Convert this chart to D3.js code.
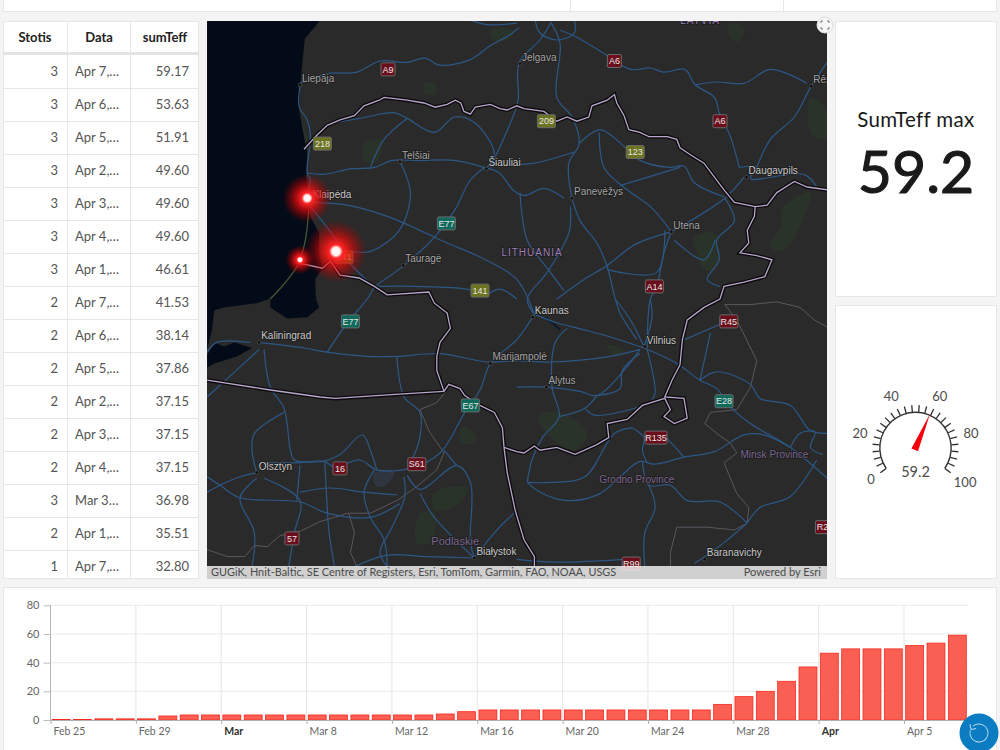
<!DOCTYPE html>
<html>
<head>
<meta charset="utf-8">
<script src="https://cdn.jsdelivr.net/npm/d3@7"></script>
<style>
  html, body { margin: 0; padding: 0; background: #f4f4f4; overflow: hidden; }
  svg { display: block; font-family: Lato, "Open Sans", sans-serif; }
  .mapLabel { font-family: "Liberation Sans", Arial, sans-serif; paint-order: stroke; stroke: #1c1c1c; stroke-width: 1.5px; }
  .axis path { display: none; }
</style>
</head>
<body>
<div id="dashboard"></div>
<script>
/*
 * table values
 */
var tableHeads = ["Stotis", "Data", "sumTeff"];
var tableStotis = [3, 3, 3, 3, 3, 3, 3, 2, 2, 2, 2, 2, 2, 3, 2, 1];
var tableDates = ["Apr 7,…", "Apr 6,…", "Apr 5,…", "Apr 2,…", "Apr 3,…", "Apr 4,…", "Apr 1,…", "Apr 7,…",
                  "Apr 6,…", "Apr 5,…", "Apr 2,…", "Apr 3,…", "Apr 4,…", "Mar 3…", "Apr 1,…", "Apr 7,…"];
var tableSums = ["59.17", "53.63", "51.91", "49.60", "49.60", "49.60", "46.61", "41.53",
                 "38.14", "37.86", "37.15", "37.15", "37.15", "36.98", "35.51", "32.80"];

/*
 * bar chart values, one per day from Feb 25 to Apr 7
 */
var dailyMax = [0.3, 0.3, 0.8, 0.8, 0.8, 2.8, 3.5, 3.5, 3.5, 3.5, 3.5, 3.5, 3.5, 3.5, 3.5, 3.5, 3.5, 3.5,
                4.2, 5.8, 7, 7, 7, 7, 7, 7, 7, 7, 7, 7, 7, 10.9, 16.3, 20, 27, 36.98, 46.61,
                49.6, 49.6, 49.6, 51.91, 53.63, 59.17];
var xTickDays = ["2024-02-25", "2024-02-29", "2024-03-04", "2024-03-08", "2024-03-12", "2024-03-16",
                 "2024-03-20", "2024-03-24", "2024-03-28", "2024-04-01", "2024-04-05"];
var xTickLabels = ["Feb 25", "Feb 29", "Mar", "Mar 8", "Mar 12", "Mar 16", "Mar 20", "Mar 24", "Mar 28", "Apr", "Apr 5"];
var yTicks = [0, 20, 40, 60, 80];

/*
 * indicator and gauge
 */
var kpiTitle = "SumTeff max";
var kpiValue = 59.2;
var gaugeLabels = [0, 20, 40, 60, 80, 100];

/*
 * map layers, all in [lon, lat]
 */
var seaOutline = [[19.89,56.99],[21.30,56.99],[21.23,56.94],[21.11,56.86],[21.08,56.69],[21.05,56.51],[21.04,56.35],[21.10,56.16],[21.14,56.04],[21.13,55.87],[21.16,55.71],[21.18,55.56],[21.11,55.40],[21.05,55.26],[20.89,55.11],[20.66,55.00],[20.51,54.97],[20.10,54.94],[19.98,54.92],[19.95,54.78],[19.89,54.64]];
var curonianLagoon = [[21.18,55.59],[21.29,55.47],[21.29,55.33],[21.33,55.22],[21.24,55.14],[21.25,55.00],[21.29,54.94],[21.14,54.87],[20.89,54.86],[20.68,54.94],[20.68,55.00],[20.89,55.11],[21.05,55.26],[21.11,55.40]];
var vistulaLagoon = [[19.89,54.60],[19.98,54.69],[20.10,54.66],[20.23,54.69],[20.45,54.65],[20.26,54.59],[19.98,54.54],[19.89,54.51]];
var smallLake = [[21.98,53.76],[22.23,53.77],[22.10,53.66],[21.99,53.67]];
var kaunasReservoir = [[24.11,54.87],[24.20,54.83],[24.30,54.78]];
var curonianSpit = [[21.16,55.64],[21.11,55.40],[21.01,55.23],[20.68,55.00]];

var forests = [
  [[23.43,56.92],[23.73,56.92],[23.64,56.85],[23.48,56.84]],
  [[22.61,56.54],[22.73,56.54],[22.74,56.46],[22.61,56.47]],
  [[21.85,56.11],[22.08,56.14],[21.99,55.97],[21.85,55.99]],
  [[21.05,56.26],[21.14,56.16],[21.10,56.10]],
  [[27.10,55.66],[27.43,55.76],[27.26,55.47],[27.10,55.35],[26.93,55.37],[27.05,55.51]],
  [[25.98,55.44],[26.23,55.47],[26.26,55.23],[26.10,55.21],[26.01,55.33]],
  [[27.43,56.44],[27.61,56.37],[27.61,56.14],[27.43,56.19]],
  [[26.41,56.97],[26.60,56.94],[26.54,56.84],[26.43,56.86]],
  [[24.04,54.17],[24.30,54.19],[24.64,54.04],[24.48,53.92],[24.26,53.97],[24.05,54.11]],
  [[22.73,53.62],[23.14,53.65],[23.05,53.54],[22.73,53.49]],
  [[22.55,53.47],[22.73,53.47],[22.68,53.26],[22.51,53.26]],
  [[23.08,54.09],[23.26,54.01],[23.18,53.96],[23.05,53.98]],
  [[24.89,54.67],[25.10,54.64],[24.98,54.59]]
];

var countryBorders = [
  [[21.10,56.07],[21.26,56.17],[21.39,56.24],[21.55,56.28],[21.73,56.31],[21.85,56.38],[22.04,56.42],[22.10,56.44],[22.26,56.43],[22.39,56.42],[22.60,56.40],[22.74,56.37],[22.89,56.39],[22.99,56.42],[23.06,56.40],[23.10,56.34],[23.18,56.32],[23.24,56.37],[23.43,56.39],[23.55,56.36],[23.64,56.35],[23.76,56.38],[23.85,56.36],[24.10,56.34],[24.26,56.27],[24.39,56.30],[24.51,56.27],[24.66,56.30],[24.70,56.38],[24.89,56.42],[24.98,56.46],[25.01,56.40],[25.10,56.31],[25.16,56.21],[25.30,56.19],[25.41,56.16],[25.64,56.16],[25.76,56.14],[25.80,56.08],[25.93,56.03],[26.10,55.97],[26.23,55.87],[26.35,55.78],[26.48,55.69],[26.74,55.66],[26.89,55.67],[27.01,55.76],[27.23,55.84],[27.39,55.80],[27.64,55.78]],
  [[26.74,55.66],[26.73,55.59],[26.64,55.49],[26.66,55.40],[26.55,55.33],[26.76,55.31],[26.95,55.28],[26.86,55.16],[26.60,55.12],[26.35,55.09],[26.30,55.00],[26.10,54.94],[25.89,54.85],[25.83,54.71],[25.80,54.53],[25.70,54.42],[25.61,54.30],[25.85,54.29],[25.89,54.15],[25.73,54.11],[25.60,54.16],[25.68,54.21],[25.61,54.29],[25.33,54.24],[25.14,54.14],[24.89,54.11],[24.91,54.01],[24.76,53.96],[24.49,53.89],[24.26,53.94],[24.05,53.92],[23.98,53.95],[23.85,53.90],[23.76,53.91],[23.60,53.94]],
  [[23.60,53.94],[23.58,54.08],[23.48,54.19],[23.30,54.24],[23.11,54.31],[23.05,54.36],[22.91,54.39],[22.85,54.34]],
  [[22.85,54.34],[22.76,54.49],[22.76,54.59],[22.80,54.69],[22.93,54.79],[22.89,54.90],[22.73,54.97],[22.66,55.05],[22.14,55.03],[21.98,55.09],[21.79,55.15],[21.55,55.17],[21.43,55.27],[21.33,55.22],[21.01,55.26]],
  [[19.89,54.42],[20.68,54.35],[21.30,54.30],[21.49,54.29],[22.29,54.32],[22.85,54.34]],
  [[23.60,53.94],[23.64,53.76],[23.74,53.49],[23.85,53.28],[23.98,53.16],[23.98,53.09]]
];

var provinceLines = [
  [[22.86,54.33],[22.76,54.26],[22.55,54.21],[22.66,54.06],[22.85,53.90],[22.76,53.78],[22.51,53.66],[22.26,53.56],[21.93,53.47],[21.64,53.47],[21.48,53.44],[21.30,53.41],[21.05,53.34],[20.80,53.31],[20.64,53.23],[20.48,53.24],[20.36,53.16],[20.14,53.16],[19.89,53.21]],
  [[21.66,53.47],[21.73,53.33],[21.68,53.19],[21.76,53.09]],
  [[26.36,54.96],[26.51,54.85],[26.76,54.56],[26.68,54.37],[26.51,54.21],[26.18,54.19],[26.11,54.11],[26.26,54.04],[26.43,53.97],[26.51,53.90],[26.35,53.83],[26.51,53.61],[26.66,53.51],[26.64,53.40],[26.48,53.35],[26.14,53.37],[25.76,53.37],[25.68,53.19],[25.68,53.09]],
  [[26.36,54.96],[26.68,54.96],[27.01,54.98],[27.30,54.94],[27.48,54.85],[27.64,54.80]]
];

var roads = [
  [[21.05,56.52],[21.04,56.37],[21.14,56.28],[21.18,56.17],[21.14,55.90],[21.18,55.85],[21.14,55.72],[21.18,55.66]],
  [[21.05,56.54],[21.39,56.61],[21.76,56.62],[22.05,56.70],[22.39,56.69],[22.61,56.72],[22.80,56.67],[23.18,56.71],[23.43,56.81],[23.68,56.89],[23.79,56.94]],
  [[21.14,55.90],[21.35,55.89],[21.68,55.93],[21.98,55.94],[22.20,55.99],[22.55,55.99],[22.98,55.99],[23.35,55.94]],
  [[21.93,55.94],[22.10,56.14],[22.39,56.29]],
  [[21.48,56.26],[21.80,56.29],[22.23,56.33],[22.39,56.29],[22.73,56.19],[22.98,56.30],[23.23,56.26],[23.48,56.04],[23.39,55.94]],
  [[23.43,55.94],[23.66,56.23],[23.76,56.38],[23.78,56.44],[23.79,56.69],[24.05,56.85],[24.18,56.97]],
  [[21.18,55.69],[21.64,55.67],[22.14,55.59],[22.55,55.49],[22.89,55.40],[23.30,55.30],[23.76,55.14],[23.98,54.89]],
  [[23.98,54.89],[24.26,54.83],[24.60,54.78],[24.98,54.72],[25.35,54.65]],
  [[25.35,54.65],[25.76,54.54],[26.05,54.42],[26.26,54.36],[26.43,54.23],[26.68,54.11],[27.18,53.94],[27.64,53.72]],
  [[25.39,54.65],[25.43,55.00],[25.51,55.09],[25.60,55.33],[25.69,55.48]],
  [[24.45,55.72],[24.55,55.56],[24.76,55.40],[24.89,55.23],[24.99,55.00],[25.05,54.90],[25.26,54.71]],
  [[24.45,55.72],[24.41,55.97],[24.54,56.11],[24.45,56.30],[24.26,56.44],[24.30,56.83],[24.18,56.98]],
  [[24.43,55.66],[24.41,55.47],[24.14,55.19],[23.89,55.00],[23.98,54.89]],
  [[23.35,55.94],[23.54,55.90],[23.73,55.77],[23.86,55.74],[24.10,55.79],[24.35,55.72]],
  [[25.69,55.48],[26.36,55.72],[26.60,55.87]],
  [[26.54,55.94],[26.43,56.16],[26.29,56.33],[26.23,56.44],[25.99,56.53],[25.86,56.64],[25.60,56.62],[25.43,56.65],[25.18,56.64],[24.89,56.74],[24.51,56.87],[24.30,56.92]],
  [[25.99,56.53],[26.26,56.55],[26.60,56.54],[26.93,56.64],[27.39,56.54]],
  [[26.76,55.94],[26.93,56.14],[27.23,56.30],[27.43,56.51],[27.64,56.69]],
  [[26.54,55.94],[26.76,55.94],[26.68,55.86],[27.35,55.89],[27.51,55.80]],
  [[24.54,56.11],[24.80,56.21],[25.10,56.09],[25.30,55.99],[25.68,55.94],[25.85,55.95],[25.98,55.83],[26.35,55.73]],
  [[23.76,55.96],[23.98,55.97],[24.48,56.05]],
  [[24.79,56.19],[24.85,55.94],[25.14,55.78],[25.43,55.66],[25.68,55.49]],
  [[25.05,55.81],[25.80,55.94]],
  [[25.69,55.48],[25.24,55.39],[24.89,55.24],[24.60,55.14],[24.26,55.00]],
  [[26.36,55.72],[26.48,55.56],[26.26,55.42],[26.29,55.28],[26.14,55.14],[26.30,55.09]],
  [[21.18,55.66],[21.48,55.44],[21.64,55.28],[21.93,55.11]],
  [[21.68,55.34],[21.93,55.34],[22.29,55.49],[22.43,55.76],[22.30,55.98]],
  [[21.98,55.09],[22.35,55.24],[22.76,55.46],[22.99,55.64],[23.18,55.85],[23.36,55.94]],
  [[22.01,55.09],[22.48,55.09],[23.14,55.07],[23.35,55.03],[23.55,55.07],[23.76,55.00]],
  [[20.54,54.69],[21.10,54.65],[21.39,54.62],[21.89,54.59],[22.26,54.59],[22.80,54.61],[23.39,54.55],[23.76,54.56],[24.18,54.55],[24.93,54.59],[25.30,54.64]],
  [[21.39,54.62],[21.64,54.83],[21.89,55.00],[21.98,55.09]],
  [[19.89,54.30],[20.10,54.41],[20.54,54.64]],
  [[19.89,54.62],[20.01,54.69],[20.43,54.69]],
  [[20.60,54.64],[20.68,54.37],[20.85,54.22],[20.93,53.92],[20.98,53.85],[21.35,53.84]],
  [[20.85,54.19],[20.48,54.04],[20.45,53.92],[20.51,53.76]],
  [[20.54,53.83],[20.99,53.83],[21.35,53.84],[21.48,53.80],[21.80,53.85],[22.01,53.78],[22.43,53.79],[22.80,53.90],[23.11,54.19],[23.30,54.35],[23.43,54.54],[23.76,54.71],[23.98,54.89]],
  [[21.35,53.84],[21.55,53.89],[21.83,54.03],[21.93,53.92],[22.01,53.78]],
  [[22.26,54.59],[22.35,54.30],[22.55,54.19],[22.54,53.99],[22.43,53.83]],
  [[20.51,53.76],[20.30,53.73],[20.05,53.67],[19.89,53.62]],
  [[20.51,53.72],[20.30,53.58],[20.48,53.33],[20.45,53.09]],
  [[19.89,53.73],[20.05,53.67],[20.30,53.58],[21.05,53.55],[21.39,53.47],[21.93,53.44],[22.30,53.54]],
  [[20.60,53.72],[21.05,53.56],[20.98,53.33],[20.91,53.09]],
  [[21.05,53.81],[21.01,53.56]],
  [[21.36,53.83],[21.39,53.51],[21.41,53.35],[21.48,53.09]],
  [[21.05,53.62],[21.43,53.65],[21.85,53.62],[22.26,53.60]],
  [[21.98,53.78],[21.85,53.62],[21.93,53.44],[22.10,53.28],[22.14,53.09]],
  [[22.35,53.73],[22.36,53.59],[22.20,53.37],[22.05,53.19],[22.14,53.09]],
  [[22.39,53.74],[22.55,53.64],[23.01,53.81],[23.18,53.69],[23.18,53.26],[23.23,53.15]],
  [[22.55,53.61],[22.73,53.44],[23.23,53.15]],
  [[23.23,53.15],[22.64,53.16],[22.14,53.17],[21.74,53.09]],
  [[23.23,53.15],[23.48,53.33],[23.76,53.49]],
  [[22.85,53.92],[23.01,53.81]],
  [[23.76,54.37],[24.11,54.37],[24.55,54.34],[24.76,54.31],[25.10,54.49],[25.30,54.64]],
  [[24.39,54.79],[24.24,54.69],[24.20,54.37],[24.29,54.16],[24.08,54.01],[23.95,53.85],[23.89,53.69]],
  [[24.29,54.16],[24.61,54.22],[24.76,54.31]],
  [[24.61,54.22],[24.73,54.17],[25.30,54.23],[25.60,54.29]],
  [[25.20,54.08],[24.98,54.04],[24.61,53.73],[24.18,53.69],[23.89,53.69]],
  [[23.89,53.69],[24.05,53.62],[24.39,53.56],[24.80,53.61],[25.05,53.73],[25.30,53.84],[25.48,53.82],[25.85,53.87],[26.23,53.91],[26.60,54.03],[26.85,54.03],[27.18,53.94]],
  [[25.20,54.08],[25.35,54.01],[25.33,53.92],[25.39,53.83]],
  [[25.60,54.03],[25.85,53.87]],
  [[25.41,53.67],[25.49,53.51],[25.36,53.33],[25.36,53.09]],
  [[25.33,53.84],[25.41,53.67],[25.68,53.67],[25.89,53.56],[26.30,53.55],[26.64,53.40]],
  [[26.64,53.40],[26.35,53.26],[25.98,53.11]],
  [[26.64,53.40],[26.80,53.51],[27.18,53.59],[27.51,53.85]],
  [[23.76,53.14],[24.26,53.12],[25.10,53.14]],
  [[25.86,54.71],[26.30,54.82]],
  [[26.18,54.76],[26.05,54.42]],
  [[26.05,54.42],[26.26,54.48],[26.68,54.39],[26.80,54.29],[27.18,54.24],[27.43,54.06],[27.64,54.04]],
  [[27.18,53.94],[27.30,54.04],[27.49,54.05],[27.43,53.94],[27.58,53.89]],
  [[25.35,54.66],[25.45,54.87],[25.43,55.00]],
  [[25.30,54.61],[25.08,54.49],[25.05,54.36],[24.76,54.31]],
  [[25.39,54.64],[25.49,54.33],[25.45,54.28]],
  [[25.35,54.66],[25.18,54.85],[24.99,55.00]],
  [[23.99,56.99],[24.05,56.90],[24.26,56.85],[24.48,56.90],[24.48,56.99]],
  [[23.18,56.99],[23.39,56.96],[23.76,56.97]],
  [[23.80,55.76],[23.89,55.42],[24.14,55.22],[24.35,55.06]],
  [[24.89,55.21],[25.51,55.19],[25.61,55.49]],
  [[25.73,55.42],[26.10,55.28],[26.24,55.42]]
];

var cityNames = ["Liepāja", "Telšiai", "Šiauliai", "Klaipėda", "Tauragė", "Jelgava", "Panevėžys", "Daugavpils", "Utena",
                 "Rēzekne", "Kaunas", "Vilnius", "Marijampolė", "Alytus", "Kaliningrad", "Olsztyn", "Białystok", "Baranavichy"];
var cityLon = [21.05, 22.30, 23.38, 21.18, 22.34, 23.80, 24.45, 26.63, 25.69, 27.44, 23.96, 25.36, 23.43, 24.13, 20.54, 20.51, 23.23, 26.11];
var cityLat = [56.53, 55.98, 55.93, 55.70, 55.24, 56.68, 55.72, 55.87, 55.48, 56.52, 54.87, 54.66, 54.54, 54.37, 54.69, 53.76, 53.15, 53.14];
var cityMajor = [0, 0, 1, 1, 0, 0, 0, 1, 0, 0, 1, 1, 0, 0, 1, 1, 1, 1];

var regionNames = ["LATVIA", "LITHUANIA", "Podlaskie", "Grodno Province", "Minsk Province"];
var regionLon = [26.05, 23.95, 22.99, 25.26, 26.98];
var regionLat = [56.99, 55.33, 53.27, 53.71, 53.89];

var badgeTexts = ["A9", "A6", "A6", "A14", "R45", "16", "S61", "57", "R135", "R99", "R2",
                  "218", "141", "209", "123", "141", "E77", "E77", "E67", "E28"];
var badgeKinds = ["red", "red", "red", "red", "red", "red", "red", "red", "red", "red", "red",
                  "olive", "olive", "olive", "olive", "olive", "green", "green", "green", "green"];
var badgeLon = [22.15, 24.98, 26.30, 25.48, 26.41, 21.55, 22.51, 20.95, 25.50, 25.19, 27.58, 21.33, 23.30, 24.13, 25.24, 21.60, 22.88, 21.68, 23.18, 26.35];
var badgeLat = [56.64, 56.70, 56.27, 55.09, 54.84, 53.79, 53.82, 53.29, 54.01, 53.11, 53.37, 56.11, 55.06, 56.27, 56.05, 55.30, 55.54, 54.84, 54.24, 54.27];

// the three hot spots on the heat map layer
var heatLon = [21.14, 21.50, 21.05];
var heatLat = [55.72, 55.34, 55.28];
var heatWeight = [20, 32, 7];

var attribution = "GUGiK, Hnit-Baltic, SE Centre of Registers, Esri, TomTom, Garmin, FAO, NOAA, USGS";

//@@@@@@@@@@@@@@@@@@@@@@@@@@@@@@@@@@@@@@@@@@@@@@@@@@@@@@@@@@@@@@@@@@@@@@@@@

var svg = d3.select("#dashboard").append("svg")
            .attr("width", 1000)
            .attr("height", 750);
var defs = svg.append("defs");

function panel(x, y, w, h) {
   svg.append("rect")
      .attr("x", x + 0.5).attr("y", y + 0.5)
      .attr("width", w - 1).attr("height", h - 1)
      .attr("fill", "#fff")
      .attr("stroke", "#e7e7e7");
}

svg.append("rect").attr("width", 1000).attr("height", 750).attr("fill", "#f4f4f4");

// top strip, the rest of the row is scrolled away
panel(3, -5, 994, 17);
svg.append("line").attr("x1", 570.5).attr("x2", 570.5).attr("y1", 0).attr("y2", 12).attr("stroke", "#e7e7e7");
svg.append("line").attr("x1", 783.5).attr("x2", 783.5).attr("y1", 0).attr("y2", 12).attr("stroke", "#e7e7e7");

/*
 * table
 */
panel(3, 21, 196, 558);
defs.append("clipPath").attr("id", "tableClip")
    .append("rect").attr("x", 3).attr("y", 21).attr("width", 196).attr("height", 558);
var table = svg.append("g").attr("clip-path", "url(#tableClip)");
var rowScale = d3.scaleBand().domain(d3.range(tableSums.length)).range([55, 55 + 33 * tableSums.length]);

table.selectAll(".rowLine")
     .data(tableSums)
     .enter().append("line")
     .attr("x1", 3).attr("x2", 199)
     .attr("y1", function(d, i) { return rowScale(i) + 33.5; })
     .attr("y2", function(d, i) { return rowScale(i) + 33.5; })
     .attr("stroke", "#e7e7e7");
table.append("rect").attr("x", 3).attr("y", 52).attr("width", 196).attr("height", 3).attr("fill", "#e4e4e4");
[67.5, 130.5].forEach(function(x) {
   table.append("line").attr("x1", x).attr("x2", x).attr("y1", 21).attr("y2", 579).attr("stroke", "#e7e7e7");
});

var headX = [35, 99, 165];
table.selectAll(".head")
     .data(tableHeads)
     .enter().append("text")
     .attr("x", function(d, i) { return headX[i]; })
     .attr("y", 37)
     .attr("dy", "0.35em")
     .attr("text-anchor", "middle")
     .attr("font-size", 13)
     .attr("font-weight", 700)
     .attr("fill", "#222")
     .text(function(d) { return d; });

function tableColumn(values, x, anchor) {
   table.selectAll(null)
        .data(values)
        .enter().append("text")
        .attr("x", x)
        .attr("y", function(d, i) { return rowScale(i) + 16; })
        .attr("dy", "0.35em")
        .attr("text-anchor", anchor)
        .attr("font-size", 13)
        .attr("fill", "#555")
        .text(function(d) { return d; });
}
tableColumn(tableStotis, 58, "end");
tableColumn(tableDates, 75, "start");
tableColumn(tableSums, 189, "end");

/*
 * map
 */
var lonScale = d3.scaleLinear().domain([20, 28]).range([216, 856]);
var latScale = d3.scaleLinear().domain([53, 57]).range([579, 19]);
var mapLine = d3.line().x(function(d) { return lonScale(d[0]); }).y(function(d) { return latScale(d[1]); });
var smoothLine = d3.line().x(mapLine.x()).y(mapLine.y()).curve(d3.curveCatmullRom.alpha(0.5));
var blobLine = d3.line().x(mapLine.x()).y(mapLine.y()).curve(d3.curveCatmullRomClosed.alpha(0.5));

defs.append("clipPath").attr("id", "mapClip")
    .append("rect").attr("x", 207).attr("y", 21).attr("width", 620).attr("height", 558);
var map = svg.append("g").attr("clip-path", "url(#mapClip)");

map.append("rect").attr("x", 207).attr("y", 21).attr("width", 620).attr("height", 558).attr("fill", "#2a2a2a");

map.selectAll(".forest")
   .data(forests)
   .enter().append("path")
   .attr("d", blobLine)
   .attr("fill", "#2a3329");

map.append("path").datum(smallLake).attr("d", blobLine).attr("fill", "#30363f");
[seaOutline, curonianLagoon, vistulaLagoon].forEach(function(ring) {
   map.append("path").datum(ring).attr("d", mapLine).attr("fill", "#020b17");
});
map.append("path").datum(curonianSpit).attr("d", smoothLine)
   .attr("fill", "none").attr("stroke", "#4d5a35").attr("stroke-width", 1.2);
map.append("path").datum(kaunasReservoir).attr("d", smoothLine)
   .attr("fill", "none").attr("stroke", "#0a1a30").attr("stroke-width", 1.8);

map.selectAll(".province")
   .data(provinceLines)
   .enter().append("path")
   .attr("d", mapLine)
   .attr("fill", "none")
   .attr("stroke", "#5c5660")
   .attr("stroke-width", 1);

map.selectAll(".road")
   .data(roads)
   .enter().append("path")
   .attr("d", smoothLine)
   .attr("fill", "none")
   .attr("stroke", "#2c5887")
   .attr("stroke-width", 1.2);

map.selectAll(".borderCase")
   .data(countryBorders)
   .enter().append("path")
   .attr("d", mapLine)
   .attr("fill", "none")
   .attr("stroke", "#0b0b0b")
   .attr("stroke-width", 4);
map.selectAll(".borderLine")
   .data(countryBorders)
   .enter().append("path")
   .attr("d", mapLine)
   .attr("fill", "none")
   .attr("stroke", "#b8a6cb")
   .attr("stroke-width", 1.3);

// road shields
var badgeFill = { red: "#6b0d1a", olive: "#6c7420", green: "#0e6b5c" };
var badges = map.selectAll(".badge")
   .data(badgeTexts)
   .enter().append("g")
   .attr("transform", function(d, i) { return "translate(" + lonScale(badgeLon[i]) + "," + latScale(badgeLat[i]) + ")"; });
badges.append("rect")
   .attr("x", function(d) { return -(d.length * 2 + 3); })
   .attr("y", -6.5)
   .attr("width", function(d) { return 2 * (d.length * 2 + 3); })
   .attr("height", 13)
   .attr("rx", 1.5)
   .attr("fill", function(d, i) { return badgeFill[badgeKinds[i]]; })
   .attr("stroke", "#6a6a6a")
   .attr("stroke-width", 1);
badges.append("text")
   .attr("text-anchor", "middle")
   .attr("dy", "0.36em")
   .attr("font-family", "Liberation Sans, Arial, sans-serif")
   .attr("font-size", 9)
   .attr("fill", "#e6e6e6")
   .text(function(d) { return d; });

// places
map.selectAll(".cityDot")
   .data(cityNames)
   .enter().append("circle")
   .attr("cx", function(d, i) { return lonScale(cityLon[i]); })
   .attr("cy", function(d, i) { return latScale(cityLat[i]); })
   .attr("r", 1.8)
   .attr("fill", "#0d0d0d")
   .attr("stroke", "#666")
   .attr("stroke-width", 0.5);
map.selectAll(".cityLabel")
   .data(cityNames)
   .enter().append("text")
   .attr("class", "mapLabel")
   .attr("x", function(d, i) { return lonScale(cityLon[i]) + 2; })
   .attr("y", function(d, i) { return latScale(cityLat[i]) - 3; })
   .attr("font-size", 10)
   .attr("fill", function(d, i) { return cityMajor[i] ? "#c9c9c9" : "#a5a5a5"; })
   .text(function(d) { return d; });
map.selectAll(".regionLabel")
   .data(regionNames)
   .enter().append("text")
   .attr("class", "mapLabel")
   .attr("x", function(d, i) { return lonScale(regionLon[i]); })
   .attr("y", function(d, i) { return latScale(regionLat[i]); })
   .attr("dy", "0.35em")
   .attr("text-anchor", "middle")
   .attr("font-size", function(d) { return d === "Podlaskie" ? 11 : 10; })
   .attr("letter-spacing", function(d) { return d === d.toUpperCase() ? "1px" : "0"; })
   .attr("fill", function(d) { return d === d.toUpperCase() ? "#9d7fbb" : "#7d6690"; })
   .text(function(d) { return d; });

// heat layer
var heatGradient = defs.append("radialGradient").attr("id", "heatGlow");
heatGradient.selectAll("stop")
   .data([[0, "#ffffff", 1], [0.13, "#fff0f0", 1], [0.22, "#ff2424", 1], [0.5, "#ea0a0a", 0.66], [0.78, "#c80000", 0.3], [1, "#b00000", 0]])
   .enter().append("stop")
   .attr("offset", function(d) { return d[0]; })
   .attr("stop-color", function(d) { return d[1]; })
   .attr("stop-opacity", function(d) { return d[2]; });
var heatRadius = d3.scaleSqrt().domain([0, 32]).range([0, 31]);
map.selectAll(".heat")
   .data(heatWeight)
   .enter().append("circle")
   .attr("cx", function(d, i) { return lonScale(heatLon[i]); })
   .attr("cy", function(d, i) { return latScale(heatLat[i]); })
   .attr("r", function(d) { return heatRadius(d); })
   .attr("fill", "url(#heatGlow)");

// attribution bar
map.append("rect").attr("x", 207).attr("y", 566).attr("width", 620).attr("height", 13)
   .attr("fill", "#fff").attr("fill-opacity", 0.78);
map.append("text").attr("x", 211).attr("y", 572.5).attr("dy", "0.35em")
   .attr("font-size", 10.9).attr("fill", "#4a4a4a").text(attribution);
map.append("text").attr("x", 821).attr("y", 572.5).attr("dy", "0.35em").attr("text-anchor", "end")
   .attr("font-size", 11).attr("fill", "#4a4a4a").text("Powered by Esri");

// expand button
svg.append("circle").attr("cx", 825).attr("cy", 25).attr("r", 8).attr("fill", "#f7f7f7").attr("stroke", "#ddd");
svg.append("path")
   .attr("d", "M821 23v-2h2M827 21h2v2M829 27v2h-2M823 29h-2v-2")
   .attr("fill", "none").attr("stroke", "#777").attr("stroke-width", 1);

/*
 * indicator
 */
panel(835, 21, 162, 276);
svg.append("text").attr("x", 916).attr("y", 120).attr("dy", "0.35em").attr("text-anchor", "middle")
   .attr("font-size", 20.5).attr("letter-spacing", "0.35px").attr("fill", "#1a1a1a").text(kpiTitle);
svg.append("text").attr("x", 916).attr("y", 172).attr("dy", "0.35em").attr("text-anchor", "middle")
   .attr("font-size", 59).attr("fill", "#1a1a1a")
   .attr("stroke", "#1a1a1a").attr("stroke-width", 1.1)
   .text(d3.format(".1f")(kpiValue));

/*
 * gauge
 */
panel(835, 305, 162, 274);
var gauge = svg.append("g").attr("transform", "translate(915.5,448)");
var gaugeAngle = d3.scaleLinear().domain([0, 100]).range([-125, 125]);
var toRad = Math.PI / 180;

gauge.append("path")
     .attr("d", d3.arc().innerRadius(35).outerRadius(36.4)
                  .startAngle(gaugeAngle(0) * toRad).endAngle(gaugeAngle(100) * toRad)())
     .attr("fill", "#333");
gauge.selectAll(".gaugeTick")
     .data(d3.range(0, 101, 4))
     .enter().append("line")
     .attr("y1", -36).attr("y2", -43)
     .attr("stroke", "#333")
     .attr("stroke-width", 1.3)
     .attr("transform", function(d) { return "rotate(" + gaugeAngle(d) + ")"; });
gauge.selectAll(".gaugeLabel")
     .data(gaugeLabels)
     .enter().append("text")
     .attr("x", function(d) { return (51 + 3.2 * String(d).length) * Math.sin(gaugeAngle(d) * toRad); })
     .attr("y", function(d) { return -(51 + 3.2 * String(d).length) * Math.cos(gaugeAngle(d) * toRad); })
     .attr("dy", "0.35em")
     .attr("text-anchor", "middle")
     .attr("font-size", 13)
     .attr("fill", "#4c4c4c")
     .text(function(d) { return d; });
gauge.append("path")
     .attr("d", d3.line()([[-3.6, 2], [0, -37], [3.6, 2]]) + "Z")
     .attr("fill", "#f5000a")
     .attr("transform", "rotate(" + gaugeAngle(kpiValue) + ")");
gauge.append("text")
     .attr("y", 24)
     .attr("dy", "0.35em")
     .attr("text-anchor", "middle")
     .attr("font-size", 14.5)
     .attr("fill", "#4c4c4c")
     .text(d3.format(".1f")(kpiValue));

/*
 * daily bar chart
 */
panel(3, 587, 994, 170);
var parseDay = d3.timeParse("%Y-%m-%d");
var days = d3.timeDay.range(parseDay("2024-02-25"), parseDay("2024-04-08"));
var xScale = d3.scaleTime().domain([parseDay("2024-02-25"), parseDay("2024-04-08")]).range([50.5, 968]);
var yScale = d3.scaleLinear().domain([0, 80]).range([720, 605.3]);

var chart = svg.append("g");

// grid and axes
var yAxis = chart.append("g")
   .attr("class", "axis")
   .attr("transform", "translate(50.5,0)")
   .call(d3.axisLeft(yScale).tickValues(yTicks).tickSize(7).tickPadding(4));
yAxis.selectAll("line").attr("stroke", "#bdbdbd");
yAxis.selectAll("text").attr("font-family", "Lato, sans-serif").attr("font-size", 11).attr("fill", "#666");

chart.selectAll(".yGrid")
   .data(yTicks)
   .enter().append("line")
   .attr("x1", 50.5).attr("x2", 968)
   .attr("y1", function(d) { return yScale(d); })
   .attr("y2", function(d) { return yScale(d); })
   .attr("stroke", "#ebebeb");
chart.selectAll(".xGrid")
   .data(xTickDays)
   .enter().append("line")
   .attr("x1", function(d) { return xScale(parseDay(d)); })
   .attr("x2", function(d) { return xScale(parseDay(d)); })
   .attr("y1", 605.3).attr("y2", 720)
   .attr("stroke", "#e6e6e6");

chart.selectAll(".bar")
   .data(dailyMax)
   .enter().append("rect")
   .attr("x", function(d, i) { return xScale(days[i]) + 1.7; })
   .attr("y", function(d) { return yScale(d); })
   .attr("width", function(d, i) { return xScale(d3.timeDay.offset(days[i], 1)) - xScale(days[i]) - 3.4; })
   .attr("height", function(d) { return 720 - yScale(d); })
   .attr("fill", "#f95f52")
   .attr("stroke", "#f52a1e")
   .attr("stroke-width", 0.8);

chart.append("line").attr("x1", 50.5).attr("x2", 50.5).attr("y1", 605.3).attr("y2", 720).attr("stroke", "#b5b5b5");
chart.append("line").attr("x1", 50.5).attr("x2", 968).attr("y1", 720.5).attr("y2", 720.5).attr("stroke", "#b0b0b0");

var xAxis = chart.append("g")
   .attr("class", "axis")
   .attr("transform", "translate(0,720)")
   .call(d3.axisBottom(xScale)
           .tickValues(xTickDays.map(parseDay))
           .tickSize(4)
           .tickFormat(function(d, i) { return xTickLabels[i]; }));
xAxis.selectAll("line").attr("stroke", "#b0b0b0");
xAxis.selectAll("text")
     .attr("font-family", "Lato, sans-serif")
     .attr("font-size", 10.5)
     .attr("fill", function(d, i) { return xTickLabels[i].length === 3 ? "#333" : "#666"; })
     .attr("font-weight", function(d, i) { return xTickLabels[i].length === 3 ? 700 : 400; })
     .attr("text-anchor", "start")
     .attr("x", 2.5)
     .attr("y", 8);

/*
 * refresh button
 */
var refresh = svg.append("g").attr("transform", "translate(979,733)");
refresh.append("circle").attr("r", 19.5).attr("fill", "#0b7cc1");
refresh.append("path")
       .attr("d", d3.arc().innerRadius(8.6).outerRadius(9.4).startAngle(-0.7).endAngle(5)())
       .attr("fill", "#cfe6f5");
refresh.append("path")
       .attr("d", "M-9 -9L-8 -3.5L-2.8 -4.5")
       .attr("fill", "none").attr("stroke", "#cfe6f5").attr("stroke-width", 0.9);
</script>
</body>
</html>
